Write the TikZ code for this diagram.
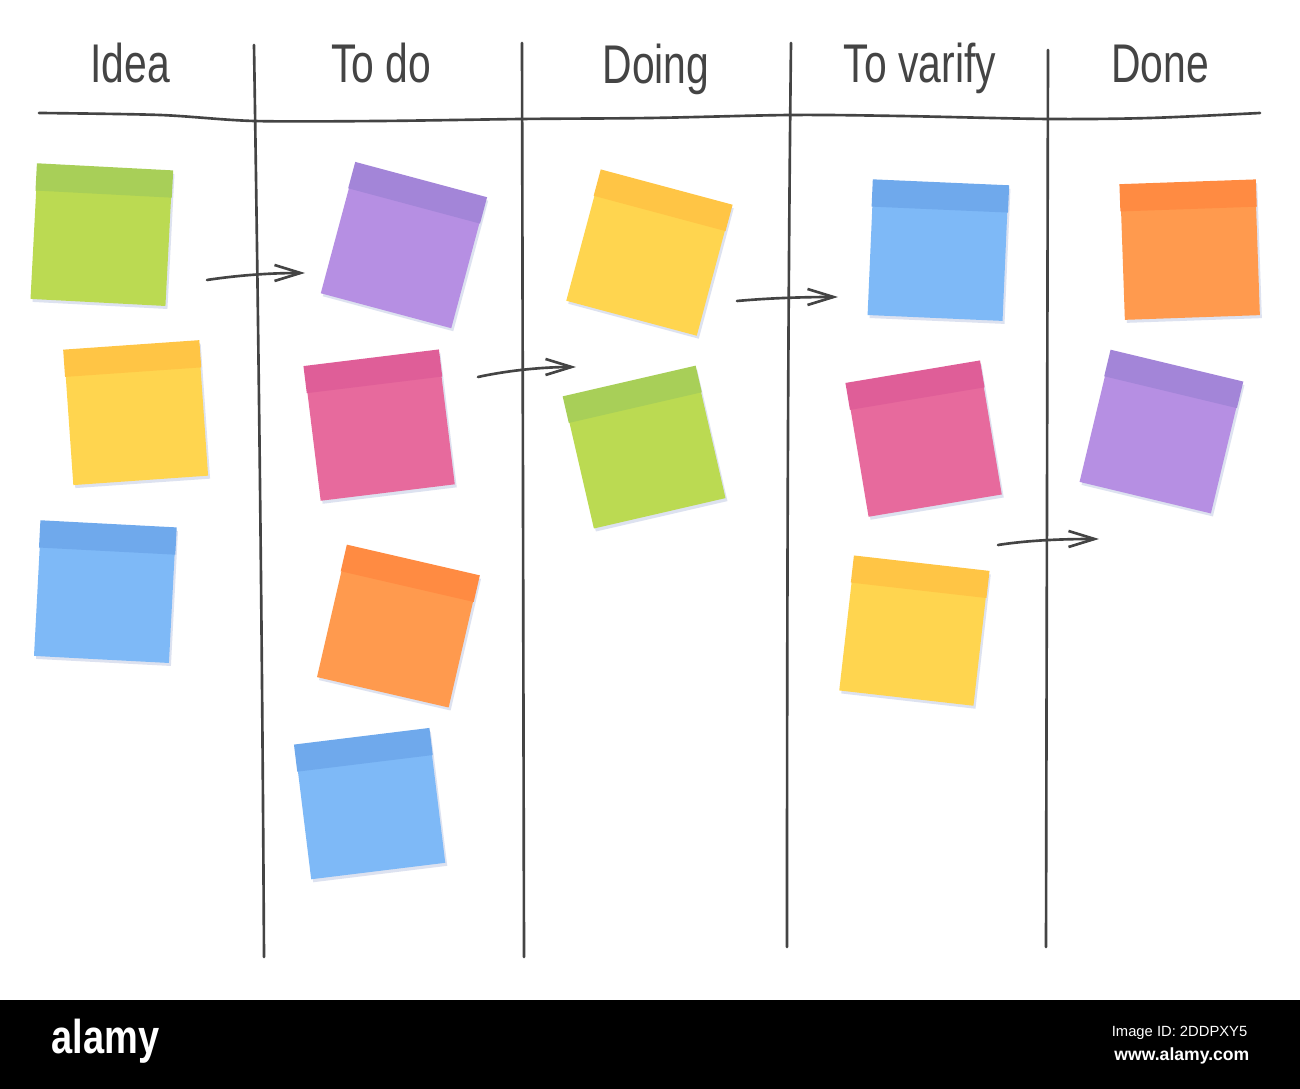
\documentclass[tikz,border=0pt]{standalone}
\usepackage{fontspec}
\setmainfont{Liberation Sans}
\newfontfamily\handfont[FakeStretch=0.75]{Liberation Sans}
\newfontfamily\logofont[FakeStretch=0.8]{Liberation Sans}
\usetikzlibrary{calc,shadows,arrows.meta}

\definecolor{board}{HTML}{444444}
\definecolor{noteshade}{HTML}{DDE2F0}
\definecolor{greenc}{HTML}{BBDA52}
\definecolor{greenb}{HTML}{A8CF58}
\definecolor{yellowc}{HTML}{FFD54F}
\definecolor{yellowb}{HTML}{FFC545}
\definecolor{bluec}{HTML}{7EB9F7}
\definecolor{blueb}{HTML}{6FA9EC}
\definecolor{purplec}{HTML}{B68FE3}
\definecolor{purpleb}{HTML}{A385D8}
\definecolor{pinkc}{HTML}{E76A9D}
\definecolor{pinkb}{HTML}{DF5E98}
\definecolor{orangec}{HTML}{FF9A4E}
\definecolor{orangeb}{HTML}{FF8B42}

\tikzset{
  note/.style={minimum size=1.35cm, inner sep=0pt,
    drop shadow={shadow xshift=0.02cm, shadow yshift=-0.03cm, fill=noteshade, opacity=1}},
  green note/.style={note, fill=greenc},
  yellow note/.style={note, fill=yellowc},
  blue note/.style={note, fill=bluec},
  purple note/.style={note, fill=purplec},
  pink note/.style={note, fill=pinkc},
  orange note/.style={note, fill=orangec},
  heading/.style={font=\handfont\fontsize{15.5}{18}\selectfont, text=board, anchor=base},
  marker/.style={draw=board, line width=0.75pt, line cap=round},
  mover/.style={marker, -{Straight Barb[length=2.6mm, width=1.6mm]}},
  footer/.style={text=white, inner sep=0pt},
}

\begin{document}
\begin{tikzpicture}[x=0.01cm, y=-0.01cm]
   \fill[white] (0,0) rectangle (1300,1089);

   % column titles
   \node[heading] (hIdea)   at (130,83)  {Idea};
   \node[heading] (hTodo)   at (381,83)  {To do};
   \node[heading] (hDoing)  at (656,84)  {Doing};
   \node[heading] (hVerify) at (920,83)  {To varify};
   \node[heading] (hDone)   at (1160,83) {Done};

   % board lines
   \draw[marker] plot[smooth] coordinates {(39,113) (160,115) (254,121)
      (380,121) (522,119) (650,118) (791,115) (900,116) (1048,119) (1150,118) (1260,113)};
   \draw[marker] (254,45) .. controls (258,300) and (262,600) .. (264,957);
   \draw[marker] (522,43) -- (524,957);
   \draw[marker] (791,43) .. controls (788,300) and (787,600) .. (787,947);
   \draw[marker] (1048,50) -- (1046,947);

   % notes
   \node[green note,  rotate=-3]   (idea1)   at (101.5,235) {};
   \node[yellow note, rotate=4]    (idea2)   at (136,413)   {};
   \node[blue note,   rotate=-3]   (idea3)   at (105,592)   {};
   \node[purple note, rotate=-15]  (todo1)   at (403.5,245.5) {};
   \node[pink note,   rotate=7]    (todo2)   at (379.5,425.5) {};
   \node[orange note, rotate=-13]  (todo3)   at (398,626.5) {};
   \node[blue note,   rotate=7]    (todo4)   at (370,804)   {};
   \node[yellow note, rotate=-15]  (doing1)  at (649,253)   {};
   \node[green note,  rotate=13]   (doing2)  at (644.5,447.5) {};
   \node[blue note,   rotate=-2.5] (verify1) at (938,250.5) {};
   \node[pink note,   rotate=9.5]  (verify2) at (924,439)   {};
   \node[yellow note, rotate=-6.5] (verify3) at (914,631)   {};
   \node[orange note, rotate=2]    (done1)   at (1190,250)  {};
   \node[purple note, rotate=-13.5] (done2)  at (1161,432)  {};

   \foreach \n/\c in {idea1/greenb, idea2/yellowb, idea3/blueb, todo1/purpleb,
       todo2/pinkb, todo3/orangeb, todo4/blueb, doing1/yellowb, doing2/greenb,
       verify1/blueb, verify2/pinkb, verify3/yellowb, done1/orangeb, done2/purpleb}
     \fill[\c] (\n.north west) -- (\n.north east)
        -- ($(\n.north east)!0.2!(\n.south east)$)
        -- ($(\n.north west)!0.2!(\n.south west)$) -- cycle;

   % moves
   \coordinate (m1s) at (207,280);  \coordinate (m1e) at (305,273);
   \coordinate (m2s) at (478,377);  \coordinate (m2e) at (576,367);
   \coordinate (m3s) at (737,301);  \coordinate (m3e) at (838,297);
   \coordinate (m4s) at (998,545);  \coordinate (m4e) at (1099,539);
   \draw[mover] (m1s) .. controls (240,275) and (272,273) .. (m1e);
   \draw[mover] (m2s) .. controls (510,370) and (545,367) .. (m2e);
   \draw[mover] (m3s) .. controls (770,298) and (805,297) .. (m3e);
   \draw[mover] (m4s) .. controls (1030,540) and (1065,539) .. (m4e);

   % footer
   \fill[black] (0,1000) rectangle (1300,1089);
   \node[footer, anchor=base west, font=\logofont\bfseries\fontsize{13.5}{14}\selectfont]
      (logo) at (51,1054) {alamy};
   \node[footer, anchor=base east, font=\fontsize{4.2}{5}\selectfont]
      (imgid) at (1248,1037) {Image ID: 2DDPXY5};
   \node[footer, anchor=base east, font=\bfseries\fontsize{5}{6}\selectfont]
      (site) at (1250,1060) {www.alamy.com};
\end{tikzpicture}
\end{document}
